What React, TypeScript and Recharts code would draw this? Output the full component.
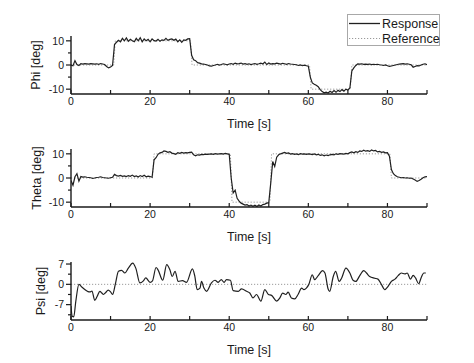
import React from 'react';
import { LineChart, Line, XAxis, YAxis } from 'recharts';

// Logged attitude samples: one value every SAMPLE_STEP seconds, 0 s .. 90 s
const SAMPLE_STEP = 0.5;

const timeTicks = [0, 10, 20, 30, 40, 50, 60, 70, 80, 90];
const timeTickLabels = [0, 20, 40, 60, 80];
const angleTicks = [-10, -5, 0, 5, 10];
const angleTickLabels = [-10, 0, 10];
const psiTicks = [-10.5, -7, -3.5, 0, 3.5, 7];
const psiTickLabels = [-7, 0, 7];

const seriesNames = ['Response', 'Reference'];

// Roll angle response [deg], 10 samples per row (5 s)
const phiResponse = [
  0, -0.3, 1.8, 0.2, -0.2, 0.6, 0.4, 0.6, 0.5, 0.4,
  0.6, 0.5, 0.4, 0.5, 0.3, 0.6, 0.4, 0.2, -0.6, -1.2,
  -0.8, -0.2, 8.5, 9.4, 10.2, 9.6, 11.0, 10.0, 11.2, 9.8,
  10.6, 10.0, 9.6, 11.0, 10.0, 11.3, 9.6, 10.8, 10.0, 10.6,
  9.6, 10.8, 10.1, 9.9, 10.6, 9.8, 10.4, 10.2, 11.0, 10.2,
  10.6, 10.8, 10.2, 10.7, 9.6, 10.4, 9.4, 10.4, 10.2, 10.8,
  10.9, 4.0, 2.2, 1.8, 1.0, 0.8, 0.5, 0.4, 0.2, 0,
  -0.4, -0.5, -0.2, 0, 0.3, 0, 0.2, 0.5, 0.3, 0.1,
  0.4, 0.6, 0.3, 0.8, 0.5, 0.6, 0.8, 0.4, 0.6, 0.3,
  0.5, 0.2, 0.4, 0.6, 0.3, 0.5, 0.8, 0.4, 1.2, 0.2,
  0.8, 0.4, 0.6, 0.5, 0.8, 0.6, 0.4, 0.7, 0.5, 0.3,
  0.6, 0.4, 0.3, 0.2, 0.1, -0.2, 0, -0.3, -0.1, -0.3,
  -0.5, -5.0, -7.4, -8.0, -8.4, -9.0, -10.2, -11.0, -11.5, -11.2,
  -11.6, -10.9, -11.4, -10.6, -11.3, -10.5, -11.0, -10.2, -10.8, -10.0,
  -10.4, -9.5, -2.5, -1.2, -0.2, 0.5, 0.4, 0.5, 0.3, 0.4,
  0.3, 0.4, 0.2, 0.3, 0.2, 0.3, 0.1, 0, -0.2, 0,
  -0.3, -0.6, -0.4, -0.2, 0, 0.2, 0.4, 0.5, 0.6, 0.4,
  0.5, 0.3, 0.1, -0.9, -0.6, -0.3, -0.4, 0, 0.3, 0.5,
  0.1,
];

// Pitch angle response [deg], 10 samples per row (5 s)
const thetaResponse = [
  -1.0, -3.0, 0.5, 1.8, -1.3, 0.6, 0.4, 0.5, 0.3, 0.2,
  0.1, -0.2, 0, 0.2, 0.3, 0.5, 0.2, 0.1, 0, -0.1,
  0.1, 0.3, 1.5, 1.0, 0.8, 1.1, 0.7, 0.9, 0.6, 1.0,
  0.7, 1.2, 0.6, 0.9, 0.4, 1.0, 0.6, 1.1, 0.5, 0.8,
  0.6, 0.3, 7.5, 8.4, 9.8, 10.4, 10.6, 11.2, 11.0, 10.6,
  10.9, 10.3, 10.1, 9.8, 10.5, 10.2, 10.6, 10.3, 10.5, 10.4,
  10.6, 10.7, 9.6, 9.2, 9.6, 9.5, 9.8, 9.7, 9.9, 9.8,
  9.9, 10.0, 9.8, 10.1, 9.9, 10.0, 10.1, 9.9, 10.2, 10.0,
  9.8, 0, -6.2, -5.0, -8.4, -9.6, -10.4, -10.8, -11.2, -11.0,
  -11.6, -11.2, -11.7, -11.3, -11.8, -11.2, -11.6, -11.0, -10.8, -10.4,
  -10.2, -2.0, 6.8, 4.8, 8.6, 9.6, 10.0, 10.3, 10.6, 10.2,
  10.4, 9.9, 10.1, 9.8, 10.0, 9.7, 10.1, 9.9, 10.0, 9.8,
  10.0, 9.9, 9.7, 10.0, 9.6, 9.8, 9.4, 9.6, 9.2, 9.5,
  9.3, 9.6, 9.8, 9.6, 10.0, 9.8, 10.1, 10.0, 9.9, 10.2,
  10.0, 10.5, 10.8, 10.4, 10.9, 10.6, 11.2, 11.0, 11.5, 11.1,
  11.3, 11.0, 11.6, 11.2, 11.4, 10.8, 11.0, 10.6, 10.8, 10.4,
  10.5, 9.0, 3.5, 1.8, 1.0, 0.5, 0.3, 0.1, 0.2, 0,
  0.1, -0.1, 0, -0.4, -0.8, -1.4, -1.0, -0.5, 0.1, 0.5,
  0.6,
];

// Yaw angle response: [time s, angle deg]
const psiResponse: [number, number][] = [
  [0, -7.5], [0.3, -11.0], [0.7, -11.2], [1.2, -6.0], [2.0, 0],
  [2.8, -1.0], [3.5, -1.8], [4.3, -2.5], [4.8, -2.6], [5.3, -2.3],
  [6.0, -5.5], [6.6, -4.2], [7.3, -2.4], [7.8, -3.0], [8.2, -3.5],
  [8.8, -2.8], [9.4, -2.0], [10.0, -2.6], [10.5, -3.5], [11.2, 0],
  [12.0, 4.5], [12.8, 4.8], [13.6, 3.9], [14.5, 5.6], [15.6, 7.3],
  [16.4, 5.5], [17.4, 0.5], [18.3, 1.2], [18.9, 2.2], [20.0, 0.7],
  [20.6, 1.2], [21.5, 5.8], [22.0, 5.0], [23.2, 1.4], [24.2, 6.8],
  [25.0, 5.0], [25.6, 2.7], [26.3, 4.5], [27.1, 1.0], [28.2, 1.3],
  [29.2, 0.7], [30.7, 5.3], [31.3, 2.8], [31.9, -1.8], [32.6, -1.3],
  [33.0, 1.0], [33.6, -1.3], [34.3, -2.4], [35.5, 0.5], [36.4, 1.4],
  [37.2, 0.7], [38.0, 1.6], [38.7, 0.7], [39.3, 1.6], [40.3, 1.4],
  [41.0, -2.2], [42.3, -2.4], [43.1, -1.6], [44.4, -2.4], [45.2, -3.0],
  [46.0, -4.7], [46.9, -3.5], [48.0, -5.8], [49.0, -1.8], [49.9, -3.5],
  [50.7, -3.8], [52.0, -5.8], [52.8, -4.7], [53.5, -3.0], [54.3, -3.5],
  [54.9, -2.7], [55.7, -4.7], [56.6, -5.0], [57.4, -3.5], [58.3, -1.3],
  [58.9, -1.8], [59.5, -1.3], [60.1, -0.1], [61.0, 3.3], [61.6, 1.6],
  [62.5, 3.0], [63.6, 4.7], [64.2, 3.9], [65.0, -1.6], [65.4, -2.4],
  [66.3, 2.7], [66.9, 4.5], [67.8, 1.0], [68.4, 2.1], [69.5, 5.6],
  [70.5, 3.9], [71.3, 1.4], [72.0, 1.0], [73.0, 3.0], [74.0, 4.7],
  [74.7, 3.9], [75.5, 2.7], [76.8, 2.1], [77.6, 1.8], [78.5, -0.1],
  [79.3, -1.8], [80.2, -0.6], [81.0, 1.0], [81.9, 1.8], [82.7, 3.0],
  [83.5, 3.9], [84.4, 3.6], [85.0, 3.9], [85.8, 1.8], [86.5, 3.1],
  [87.1, 2.2], [87.9, 0.2], [88.5, 2.2], [89.2, 3.9], [89.7, 3.9],
];

// Commanded reference steps: [time s, angle deg]
const phiReference: [number, number][] = [
  [0, 0], [10.8, 0], [11.2, 10], [30.2, 10], [30.6, 0],
  [60.3, 0], [60.7, -10], [70.6, -10], [71.0, 0], [90, 0],
];
const thetaReference: [number, number][] = [
  [0, 0], [20.6, 0], [21.0, 10], [40.3, 10], [40.7, -10],
  [50.3, -10], [50.7, 10], [80.6, 10], [81.0, 0], [90, 0],
];
const psiReference: [number, number][] = [
  [0, 0], [90, 0],
];

const FONT = '"Liberation Sans", Arial, sans-serif';
const INK = '#1a1a1a';

const fromSteps = (values: number[]) => values.map((v, i) => ({ t: i * SAMPLE_STEP, v }));
const fromPairs = (pairs: [number, number][]) => pairs.map(([t, v]) => ({ t, v }));

const TimeTick = (props: any) => {
  const { x, y, payload } = props;
  const value = payload.value;
  return (
    <g>
      <line x1={x} x2={x} y1={y} y2={y - 4} stroke={INK} strokeWidth={1.2} />
      {timeTickLabels.includes(value) && (
        <text x={x} y={y + 10.5} textAnchor="middle" fontSize={10.5} fontFamily={FONT} fill={INK}>
          {value}
        </text>
      )}
    </g>
  );
};

const makeAngleTick = (labels: number[]) => (props: any) => {
  const { x, y, payload } = props;
  const value = payload.value;
  const major = labels.includes(value);
  return (
    <g>
      <line x1={x - (major ? 5 : 3)} x2={x} y1={y} y2={y} stroke={INK} strokeWidth={1.2} />
      {major && (
        <text x={x - 7} y={y} dy="0.36em" textAnchor="end" fontSize={10.5} fontFamily={FONT} fill={INK}>
          {value}
        </text>
      )}
    </g>
  );
};

type PanelProps = {
  top: number;
  response: { t: number; v: number }[];
  reference: { t: number; v: number }[];
  yLabel: string;
  yLabelX: number;
  yDomain: [number, number];
  yTicks: number[];
  yTickLabels: number[];
  smooth?: boolean;
};

const Panel = ({ top, response, reference, yLabel, yLabelX, yDomain, yTicks, yTickLabels, smooth }: PanelProps) => (
  <div style={{ position: 'absolute', left: 0, top }}>
    <LineChart width={474} height={136} margin={{ top: 36, right: 47, bottom: 6, left: 21 }}>
      <XAxis
        type="number"
        dataKey="t"
        domain={[0, 90]}
        allowDataOverflow
        ticks={timeTicks}
        interval={0}
        tickLine={false}
        tickSize={0}
        tickMargin={0}
        height={36}
        axisLine={{ stroke: INK, strokeWidth: 1.4 }}
        tick={TimeTick}
        label={(p: any) => {
          const vb = p.viewBox;
          return (
            <text x={vb.x + vb.width / 2} y={vb.y + 34} textAnchor="middle" fontSize={12.5} fontFamily={FONT} fill={INK}>
              Time [s]
            </text>
          );
        }}
      />
      <YAxis
        type="number"
        dataKey="v"
        width={50}
        domain={yDomain}
        allowDataOverflow
        ticks={yTicks}
        interval={0}
        tickLine={false}
        tickSize={0}
        tickMargin={0}
        axisLine={{ stroke: INK, strokeWidth: 1.4 }}
        tick={makeAngleTick(yTickLabels)}
        label={(p: any) => {
          const vb = p.viewBox;
          const cy = vb.y + vb.height / 2;
          return (
            <text
              x={yLabelX}
              y={cy}
              dy="0.36em"
              transform={`rotate(-90 ${yLabelX} ${cy})`}
              textAnchor="middle"
              fontSize={12.5}
              fontFamily={FONT}
              fill={INK}
            >
              {yLabel}
            </text>
          );
        }}
      />
      <Line
        data={reference}
        dataKey="v"
        name={seriesNames[1]}
        type="linear"
        stroke="#9a9a9a"
        strokeWidth={1}
        strokeDasharray="1.2 1.8"
        dot={false}
        activeDot={false}
        isAnimationActive={false}
      />
      <Line
        data={response}
        dataKey="v"
        name={seriesNames[0]}
        type={smooth ? 'monotone' : 'linear'}
        stroke="#202020"
        strokeWidth={1.2}
        dot={false}
        activeDot={false}
        isAnimationActive={false}
      />
    </LineChart>
  </div>
);

const LegendBox = () => (
  <svg width={96} height={34} style={{ position: 'absolute', left: 347, top: 14 }}>
    <rect x={0.5} y={0.5} width={92} height={31} fill="#fff" stroke="#a8a8a8" strokeWidth={1} />
    <line x1={2} x2={33} y1={9.5} y2={9.5} stroke="#202020" strokeWidth={1.3} />
    <text x={35} y={14} fontSize={12.5} fontFamily={FONT} fill={INK}>
      {seriesNames[0]}
    </text>
    <line x1={2} x2={33} y1={24.5} y2={24.5} stroke="#9a9a9a" strokeWidth={1} strokeDasharray="1.2 1.8" />
    <text x={35} y={29} fontSize={12.5} fontFamily={FONT} fill={INK}>
      {seriesNames[1]}
    </text>
  </svg>
);

export default function App() {
  return (
    <div style={{ position: 'absolute', left: 0, top: 0, width: 474, height: 363, background: '#fff', overflow: 'hidden' }}>
      <Panel
        top={0}
        response={fromSteps(phiResponse)}
        reference={fromPairs(phiReference)}
        yLabel="Phi [deg]"
        yLabelX={35}
        yDomain={[-12, 12]}
        yTicks={angleTicks}
        yTickLabels={angleTickLabels}
      />
      <Panel
        top={113}
        response={fromSteps(thetaResponse)}
        reference={fromPairs(thetaReference)}
        yLabel="Theta [deg]"
        yLabelX={36}
        yDomain={[-12, 12]}
        yTicks={angleTicks}
        yTickLabels={angleTickLabels}
      />
      <Panel
        top={226}
        response={fromPairs(psiResponse)}
        reference={fromPairs(psiReference)}
        yLabel="Psi [deg]"
        yLabelX={40}
        yDomain={[-12.3, 7.7]}
        yTicks={psiTicks}
        yTickLabels={psiTickLabels}
        smooth
      />
      <LegendBox />
    </div>
  );
}
